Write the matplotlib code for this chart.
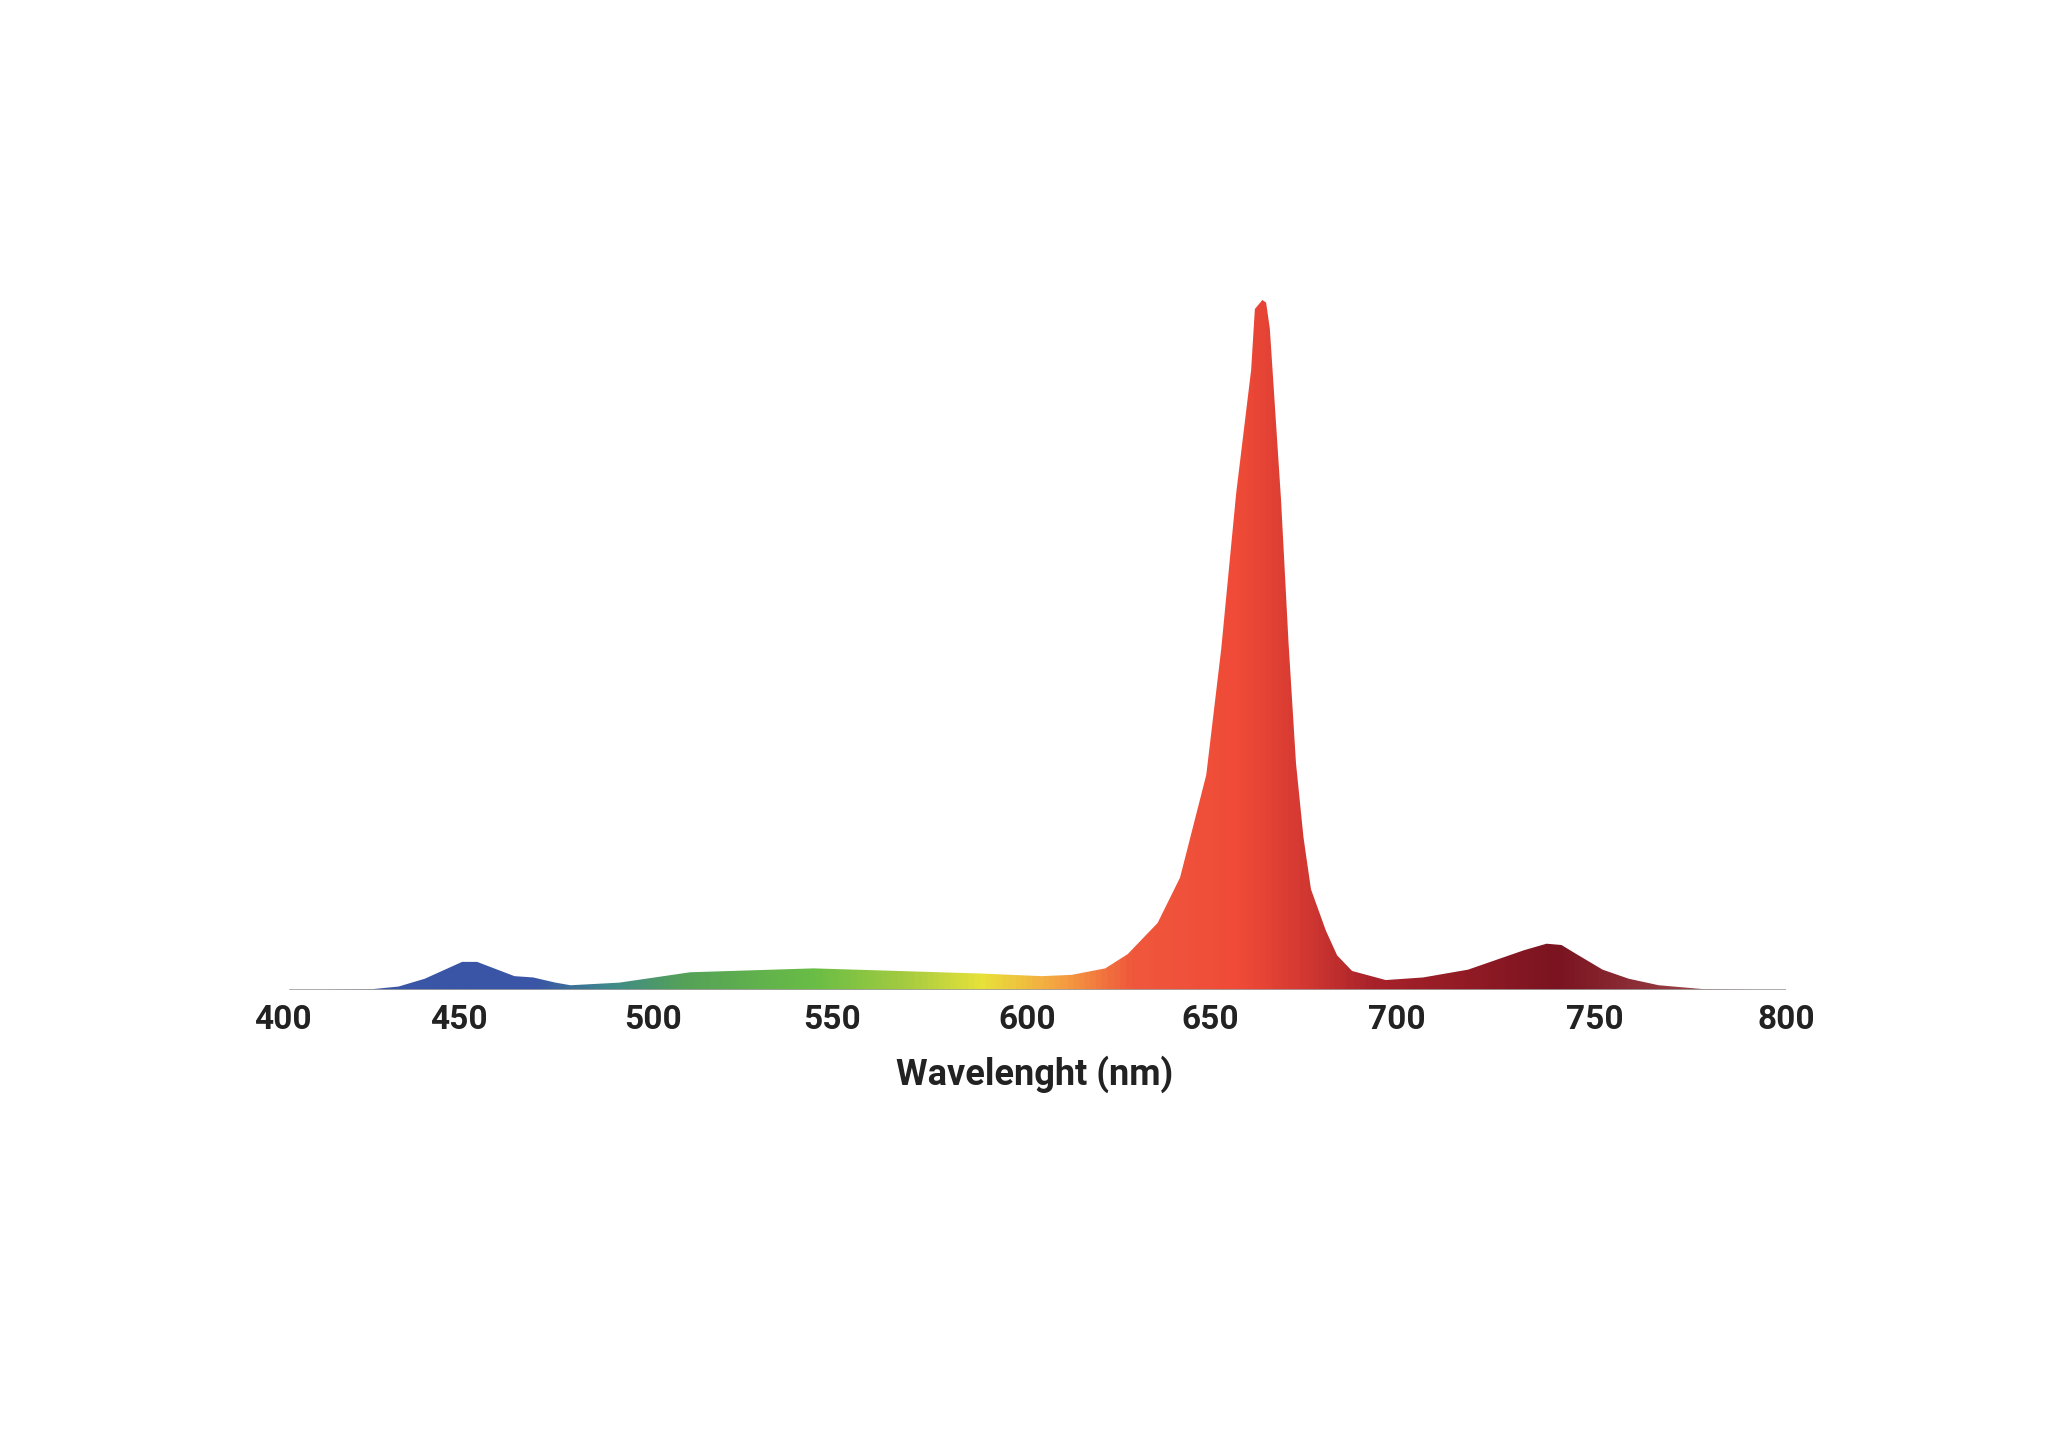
import numpy as np
import matplotlib
matplotlib.use("Agg")
import matplotlib.pyplot as plt
from matplotlib.colors import LinearSegmentedColormap
from matplotlib.patches import Polygon

wavelength = [400,422,429,436,446,450,460,465,471,475,488,507,540,585,601,609,618,624,632,638,645,649,653,657,658,660,661,662,665,667,669,671,673,677,680,684,693,703,715,730,736,740,744,751,758,766,778,800]
intensity = [0,1,3,9,22,22,11,10,6,4,6,14,17,13,11,12,17,28,52,87,166,263,383,478,525,532,530,510,378,268,175,118,78,46,27,15,8,10,16,31,36,35,28,16,9,4,1,0]
tick_values = [400,450,500,550,600,650,700,750,800]
tick_positions = [398,445,497,545,597,646,696,749,800]

stops = [(400,'#8a9ac8'),(425,'#3a55a6'),(465,'#3a55a6'),(485,'#3f8a8a'),(505,'#55a258'),(540,'#6abd45'),(565,'#a6cc40'),(585,'#e8e23a'),(605,'#f5a442'),(625,'#f0583c'),(655,'#ef4a38'),(670,'#d63a32'),(690,'#a8222a'),(740,'#7a1420'),(800,'#b06060')]
cmap = LinearSegmentedColormap.from_list('spec', [((w-400)/400, c) for w, c in stops])

plt.rcParams['font.family'] = ['Roboto', 'DejaVu Sans']
fig = plt.figure(figsize=(20.48, 14.48), dpi=100)
ax = fig.add_axes([0.138, 0.316, 0.734, 0.484])
ax.set_xlim(400, 800)
ax.set_ylim(0, 540)

grad = np.linspace(0, 1, 800).reshape(1, -1)
im = ax.imshow(grad, extent=[400, 800, 0, 540], aspect='auto', cmap=cmap, origin='lower')
poly = Polygon(list(zip(wavelength, intensity)) + [(800, 0), (400, 0)], closed=True, transform=ax.transData, facecolor='none', edgecolor='none')
ax.add_patch(poly)
im.set_clip_path(poly)
ax.plot([400, 800], [0, 0], color='#a0a0a0', lw=1.2)

for s in ax.spines.values():
    s.set_visible(False)
ax.set_yticks([])
ax.set_xticks(tick_positions)
ax.set_xticklabels([str(v) for v in tick_values], fontsize=24, fontweight='bold', color='#222222')
ax.tick_params(axis='x', length=0, pad=10)
ax.set_xlabel('Wavelenght (nm)', fontsize=26, fontweight='bold', color='#222222', labelpad=14)
fig.savefig('out.png', dpi=100, facecolor='white')
